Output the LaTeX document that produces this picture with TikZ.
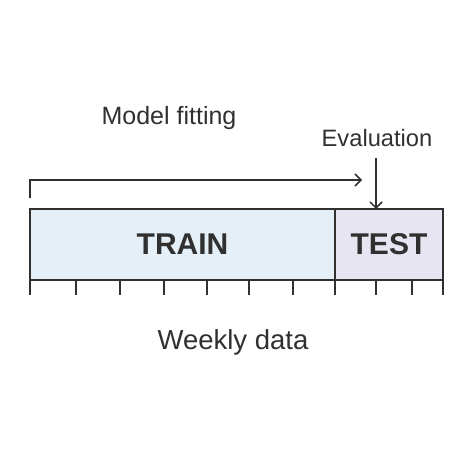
\documentclass[tikz,border=0pt]{standalone}
\usepackage{fontspec}
\setmainfont{Liberation Sans}
\usetikzlibrary{arrows.meta}
\definecolor{linegray}{HTML}{303030}
\definecolor{trainblue}{HTML}{E4EFF7}
\definecolor{testlilac}{HTML}{E7E5F1}

\begin{document}
\begin{tikzpicture}[x=1pt,y=-1pt,line width=1.9pt,draw=linegray,
    block/.style={draw=linegray,minimum height=71pt,inner sep=0pt,outer sep=0pt,anchor=west,
        font=\fontsize{30}{30}\selectfont\bfseries,text=linegray},
    label/.style={text=linegray,inner sep=0pt},
    arr/.style={-{Straight Barb[length=6pt,width=12pt]},line width=1.5pt}]
        \useasboundingbox (0,0) rectangle (474,474);
        \node[block,fill=trainblue,minimum width=305pt] (train) at (30,244.5) {TRAIN};
        \node[block,fill=testlilac,minimum width=108pt] (test) at (train.east) {TEST};
        \foreach \x in {30,76,120,164,207,249,293,335,376,412,443}
            \draw (\x,280) -- (\x,295);
        \node[label,font=\fontsize{25}{25}\selectfont] (fit) at (169,118) {Model fitting};
        \node[label,font=\fontsize{23.7}{24}\selectfont] (eval) at (377,138) {Evaluation};
        \node[label,font=\fontsize{27.5}{28}\selectfont] (weekly) at (233,342) {Weekly data};
        \coordinate (fitstart) at (30,198);
        \coordinate (fitend) at (362,180);
        \draw[arr] (fitstart) |- (fitend);
        \coordinate (evaltop) at (376,158);
        \draw[arr] (evaltop) -- (evaltop |- test.north);
\end{tikzpicture}
\end{document}
